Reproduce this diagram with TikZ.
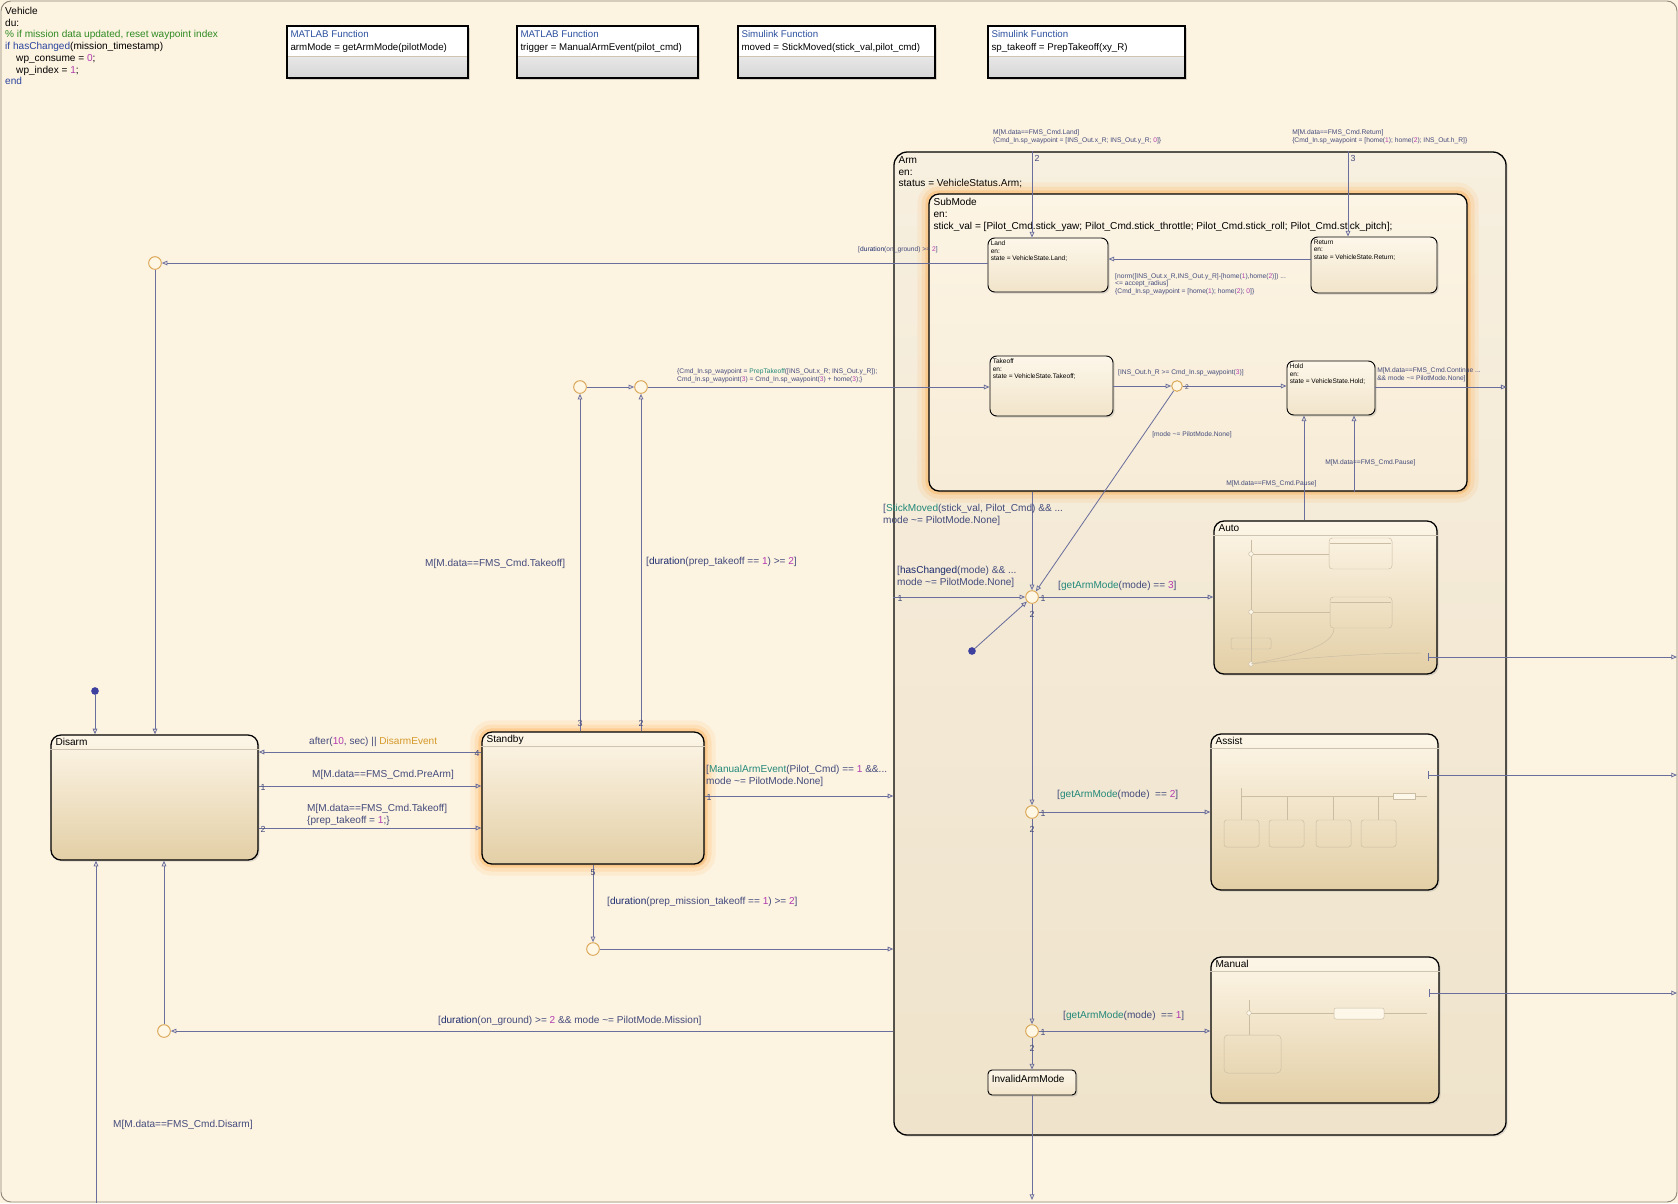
\documentclass[tikz,border=0pt]{standalone}
\usepackage{fontspec}
\setmainfont{Liberation Sans}
\usepackage{tikz}
\usetikzlibrary{arrows.meta,fit,shadows}

% colori nei testi delle transizioni
\newcommand{\cFn}[1]{\textcolor{colFn}{#1}}
\newcommand{\cNum}[1]{\textcolor{colNum}{#1}}
\newcommand{\cKw}[1]{\textcolor{colKw}{#1}}
\newcommand{\cEv}[1]{\textcolor{colEv}{#1}}
\newcommand{\tld}{\textasciitilde}

\begin{document}
\begin{tikzpicture}[x=0.3mm, y=-0.3mm,
  lab/.style={font=\fontsize{8.6}{10}\selectfont, text=colLab, inner sep=0pt, anchor=west, align=left},
  labS/.style={font=\fontsize{5.7}{6.5}\selectfont, text=colLab, inner sep=0pt, anchor=west, align=left},
  prio/.style={font=\fontsize{7.5}{8}\selectfont, text=colLab, inner sep=0pt},
  stTxt/.style={font=\fontsize{8.6}{9.9}\selectfont, inner sep=0pt, anchor=north west, align=left},
  stTxtS/.style={font=\fontsize{5.6}{6.5}\selectfont, inner sep=0pt, anchor=north west, align=left},
  fnTxt/.style={stTxt, font=\fontsize{8.3}{11}\selectfont},
  stateBox/.style={draw=black, line width=1.1pt, rounded corners=3mm, top color=colStTop, bottom color=colStBot, inner sep=0pt,
    drop shadow={shadow xshift=0.5mm, shadow yshift=-0.5mm, opacity=0.25}},
  smallBox/.style={stateBox, line width=0.8pt, rounded corners=2mm, top color=colSmTop, bottom color=colSmBot},
  glow/.style={preaction={draw=colGlow, line width=7mm, opacity=0.10},
    preaction={draw=colGlow, line width=4.5mm, opacity=0.16},
    preaction={draw=colGlow, line width=2.2mm, opacity=0.30}},
  fnBox/.style={draw=black, line width=1.2pt, fill=white, inner sep=0pt,
    drop shadow={shadow xshift=0.6mm, shadow yshift=-0.6mm, opacity=0.3},
    path picture={
      \shade[top color=white, bottom color=colFnBot] (path picture bounding box.south west) rectangle ([yshift=6.6mm]path picture bounding box.south east);
      \draw[colDiv, line width=0.5pt] ([yshift=6.6mm]path picture bounding box.south west) -- ([yshift=6.6mm]path picture bounding box.south east);
    }},
  junc/.style={circle, draw=colJunc, fill=colJuncFill, line width=0.8pt, minimum size=3.8mm, inner sep=0pt},
  defDot/.style={circle, fill=colDot, minimum size=2.3mm, inner sep=0pt},
  trans/.style={draw=colLine, line width=0.7pt, -{Triangle[open, length=1.7mm, width=1.4mm]}},
  transBar/.style={draw=colLine, line width=0.7pt, {Bar[width=2.2mm]}-{Triangle[open, length=1.7mm, width=1.4mm]}},
  faint/.style={draw=colFaint, line width=0.4pt},
  divLine/.style={draw=colDiv, line width=0.5pt}
]

% Colori
\definecolor{colBg}{HTML}{FDF3E1}
\definecolor{colFrame}{HTML}{8C8679}
\definecolor{colStTop}{HTML}{FDF6E8}
\definecolor{colStBot}{HTML}{E3CFA6}
\definecolor{colSmTop}{HTML}{FDF7EA}
\definecolor{colSmBot}{HTML}{F1E4CA}
\definecolor{colArmTop}{HTML}{F7EFDF}
\definecolor{colArmBot}{HTML}{EFE3CB}
\definecolor{colSubTop}{HTML}{FCF4E4}
\definecolor{colSubBot}{HTML}{F7ECD7}
\definecolor{colGlow}{HTML}{FFA63D}
\definecolor{colLine}{HTML}{6A6E9C}
\definecolor{colLab}{HTML}{434B7C}
\definecolor{colFn}{HTML}{23897A}
\definecolor{colNum}{HTML}{B23CB0}
\definecolor{colKw}{HTML}{1C2B6E}
\definecolor{colEv}{HTML}{D49A2A}
\definecolor{colCm}{HTML}{2E8B22}
\definecolor{colCode}{HTML}{2B45A0}
\definecolor{colJunc}{HTML}{D9A654}
\definecolor{colJuncFill}{HTML}{FFF6E3}
\definecolor{colDot}{HTML}{3E40A0}
\definecolor{colFaint}{HTML}{CBBDA3}
\definecolor{colDiv}{HTML}{CFC4B2}
\definecolor{colFnBot}{HTML}{D6D6D6}
\definecolor{colFnHd}{HTML}{2B509E}

% Sfondo del chart
\useasboundingbox (0,0) rectangle (1678,1203);
\fill[colBg] (0,0) rectangle (1678,1203);
\draw[colFrame, line width=0.8pt, rounded corners=3mm] (1,1) rectangle (1677,1202);

% Testo del chart
\node[stTxt, font=\fontsize{8.6}{10}\selectfont] (vehTxt) at (5,7) {Vehicle\\du:\\\textcolor{colCm}{\% if mission data updated, reset waypoint index}\\\textcolor{colCode}{if hasChanged}(mission\_timestamp)\\\hspace*{3.3mm}wp\_consume = \cNum{0};\\\hspace*{3.3mm}wp\_index = \cNum{1};\\\textcolor{colCode}{end}};

% Funzioni
\node[fnBox, fit={(287,26) (468,78)}] (fnArm) {};
\node[fnBox, fit={(517,26) (698,78)}] (fnManual) {};
\node[fnBox, fit={(738,26) (935,78)}] (fnStick) {};
\node[fnBox, fit={(988,26) (1185,78)}] (fnPrep) {};
\node[fnTxt] at ([shift={(4,5)}]fnArm.north west) {\textcolor{colFnHd}{MATLAB Function}\\armMode = getArmMode(pilotMode)};
\node[fnTxt] at ([shift={(4,5)}]fnManual.north west) {\textcolor{colFnHd}{MATLAB Function}\\trigger = ManualArmEvent(pilot\_cmd)};
\node[fnTxt] at ([shift={(4,5)}]fnStick.north west) {\textcolor{colFnHd}{Simulink Function}\\moved = StickMoved(stick\_val,pilot\_cmd)};
\node[fnTxt] at ([shift={(4,5)}]fnPrep.north west) {\textcolor{colFnHd}{Simulink Function}\\sp\_takeoff = PrepTakeoff(xy\_R)};

% Stato Arm e SubMode
\node[stateBox, rounded corners=4mm, top color=colArmTop, bottom color=colArmBot, fit={(894,152) (1506,1135)}] (arm) {};
\node[stTxt] at ([shift={(5,5)}]arm.north west) {Arm\\en:\\status = VehicleStatus.Arm;};
\node[stateBox, glow, top color=colSubTop, bottom color=colSubBot, fit={(929,194) (1467,491)}] (submode) {};
\node[stTxt] at ([shift={(5,5)}]submode.north west) {SubMode\\en:\\stick\_val = [Pilot\_Cmd.stick\_yaw; Pilot\_Cmd.stick\_throttle; Pilot\_Cmd.stick\_roll; Pilot\_Cmd.stick\_pitch];};

% Sottostati
\node[smallBox, fit={(988,238) (1108,292)}] (land) {};
\node[smallBox, fit={(1311,237) (1437,293)}] (return) {};
\node[smallBox, fit={(990,356) (1113,416)}] (takeoff) {};
\node[smallBox, fit={(1287,361) (1375,415)}] (hold) {};
\node[stTxtS] at ([shift={(3,3)}]land.north west) {Land\\en:\\state = VehicleState.Land;};
\node[stTxtS] at ([shift={(3,3)}]return.north west) {Return\\en:\\state = VehicleState.Return;};
\node[stTxtS] at ([shift={(3,3)}]takeoff.north west) {Takeoff\\en:\\state = VehicleState.Takeoff;};
\node[stTxtS] at ([shift={(3,3)}]hold.north west) {Hold\\en:\\state = VehicleState.Hold;};

% Modi
\node[stateBox, fit={(1214,521) (1437,674)}] (auto) {};
\node[stateBox, fit={(1211,734) (1438,890)}] (assist) {};
\node[stateBox, fit={(1211,957) (1439,1103)}] (manual) {};
\node[smallBox, rounded corners=1.2mm, fit={(988,1070) (1076,1095)}] (invalid) {};
\node[stTxt] at ([shift={(4,5)}]invalid.north west) {InvalidArmMode};

% Disarm e Standby
\node[stateBox, fit={(51,735) (258,860)}] (disarm) {};
\node[stateBox, glow, fit={(482,732) (704,864)}] (standby) {};

\foreach \s in {disarm, standby, auto, assist, manual}
  \draw[divLine] ([yshift=-4.5mm]\s.north west) -- ([yshift=-4.5mm]\s.north east);

\node[stTxt] at ([shift={(5,4)}]disarm.north west) {Disarm};
\node[stTxt] at ([shift={(5,4)}]standby.north west) {Standby};
\node[stTxt] at ([shift={(5,4)}]auto.north west) {Auto};
\node[stTxt] at ([shift={(5,4)}]assist.north west) {Assist};
\node[stTxt] at ([shift={(5,4)}]manual.north west) {Manual};

% Contenuto sbiadito di Auto
\draw[faint, rounded corners=1mm] (1329,538) rectangle (1392,569);
\draw[faint] (1330,543) -- (1391,543);
\draw[faint, rounded corners=1mm] (1330,597) rectangle (1392,628);
\draw[faint] (1331,602) -- (1391,602);
\draw[faint, rounded corners=0.6mm] (1231,638) rectangle (1271,649);
\draw[faint] (1251,540) -- (1251,664);
\draw[faint] (1251,554) -- (1329,554);
\draw[faint] (1251,612) -- (1330,612);
\foreach \yy in {554,612,664} \draw[faint, fill=colSmTop] (1251,\yy) circle (0.7mm);
\draw[faint] (1251,664) .. controls (1300,655) and (1334,645) .. (1334,628);
\draw[faint] (1251,664) .. controls (1320,656) and (1380,653) .. (1421,653);

% Contenuto sbiadito di Assist
\draw[faint] (1241,788) -- (1241,820);
\draw[faint] (1241,796) -- (1427,796);
\draw[faint, fill=colSmTop] (1393,793) rectangle (1415,799);
\foreach \xx in {1287,1333,1378} \draw[faint] (\xx,796) -- (\xx,820);
\foreach \xx in {1224,1269,1316,1361} \draw[faint, rounded corners=0.8mm] (\xx,820) rectangle ++(35,27);

% Contenuto sbiadito di Manual
\draw[faint] (1249,1000) -- (1249,1035);
\draw[faint] (1249,1013) -- (1427,1013);
\draw[faint, fill=colSmTop] (1249,1013) circle (0.7mm);
\draw[faint, fill=colSmTop, rounded corners=0.6mm] (1334,1008) rectangle (1384,1019);
\draw[faint, rounded corners=1.2mm] (1224,1035) rectangle (1281,1073);

% Giunzioni
\node[junc] (j1) at (1032,597) {};
\node[junc] (j2) at (1032,812) {};
\node[junc] (j3) at (1032,1031) {};
\node[junc, minimum size=3.2mm] (jS) at (1177,386) {};
\node[junc] (jTop) at (155,263) {};
\node[junc] (jA) at (580,387) {};
\node[junc] (jB) at (641,387) {};
\node[junc] (jC) at (593,949) {};
\node[junc] (jD) at (164,1031) {};
\node[defDot] (dotA) at (972,651) {};
\node[defDot] (dotL) at (95,691) {};
\coordinate (disIn) at (96,1203);
\coordinate (invOut) at (1032,1200);
\coordinate (autoTick) at (1428,657);
\coordinate (autoOut) at (1677,657);
\coordinate (assistTick) at (1428,775);
\coordinate (assistOut) at (1677,775);
\coordinate (manualTick) at (1429,993);
\coordinate (manualOut) at (1677,993);

% Transizioni esterne
\draw[trans] (dotL) -- (disarm.north -| dotL);
\draw[trans] (land.west |- 0,263) -- (jTop);
\draw[trans] (jTop) -- (disarm.north -| jTop);
\draw[trans] (standby.west |- 0,752) -- (disarm.east |- 0,752);
\draw[trans] (disarm.east |- 0,786) -- (standby.west |- 0,786);
\draw[trans] (disarm.east |- 0,828) -- (standby.west |- 0,828);
\draw[trans] (standby.north -| jA) -- (jA);
\draw[trans] (standby.north -| jB) -- (jB);
\draw[trans] (jA) -- (jB);
\draw[trans] (jB) -- (takeoff.west |- jB);
\draw[trans] (standby.east |- 0,796) -- (arm.west |- 0,796);
\draw[trans] (standby.south -| jC) -- (jC);
\draw[trans] (jC) -- (arm.west |- jC);
\draw[trans] (arm.west |- jD) -- (jD);
\draw[trans] (jD) -- (disarm.south -| jD);
\draw[trans] (disIn) -- (disarm.south -| disIn);

% Transizioni dentro Arm
\draw[trans] (arm.north -| j1) -- (land.north -| j1);
\draw[trans] (arm.north -| 1348,0) -- (return.north -| 1348,0);
\draw[trans] (return.west |- 0,259) -- (land.east |- 0,259);
\draw[trans] (takeoff.east |- jS) -- (jS);
\draw[trans] (jS) -- (hold.west |- jS);
\draw[trans] (hold.east |- 0,387) -- (arm.east |- 0,387);
\draw[trans] (auto.north -| 1304,0) -- (hold.south -| 1304,0);
\draw[trans] (submode.south -| 1354,0) -- (hold.south -| 1354,0);
\draw[trans] (jS) -- (j1);
\draw[trans] (submode.south -| j1) -- (j1);
\draw[trans] (arm.west |- j1) -- (j1);
\draw[trans] (dotA) -- (j1);
\draw[trans] (j1) -- (auto.west |- j1);
\draw[trans] (j1) -- (j2);
\draw[trans] (j2) -- (assist.west |- j2);
\draw[trans] (j2) -- (j3);
\draw[trans] (j3) -- (manual.west |- j3);
\draw[trans] (j3) -- (invalid.north -| j3);
\draw[trans] (invalid.south) -- (invOut);
\draw[transBar] (autoTick) -- (autoOut);
\draw[transBar] (assistTick) -- (assistOut);
\draw[transBar] (manualTick) -- (manualOut);

% Etichette delle transizioni
\node[labS] at (858,250) {[\cKw{duration}(on\_ground) >= \cNum{2}]};
\node[labS] at (677,376) {\{Cmd\_In.sp\_waypoint = \cFn{PrepTakeoff}([INS\_Out.x\_R; INS\_Out.y\_R]);\\Cmd\_In.sp\_waypoint(\cNum{3}) = Cmd\_In.sp\_waypoint(\cNum{3}) + home(\cNum{3});\}};
\node[lab] at (425,564) {M[M.data==FMS\_Cmd.Takeoff]};
\node[lab] at (646,562) {[\cKw{duration}(prep\_takeoff == \cNum{1}) >= \cNum{2}]};
\node[lab] at (309,742) {after(\cNum{10}, sec) || \cEv{DisarmEvent}};
\node[lab] at (312,775) {M[M.data==FMS\_Cmd.PreArm]};
\node[lab] at (307,815) {M[M.data==FMS\_Cmd.Takeoff]\\\{prep\_takeoff = \cNum{1};\}};
\node[lab] at (706,776) {[\cFn{ManualArmEvent}(Pilot\_Cmd) == \cNum{1} \&\&...\\mode \tld= PilotMode.None]};
\node[lab] at (607,902) {[\cKw{duration}(prep\_mission\_takeoff == \cNum{1}) >= \cNum{2}]};
\node[lab] at (438,1021) {[\cKw{duration}(on\_ground) >= \cNum{2} \&\& mode \tld= PilotMode.Mission]};
\node[lab] at (113,1125) {M[M.data==FMS\_Cmd.Disarm]};
\node[labS] at (993,137) {M[M.data==FMS\_Cmd.Land]\\\{Cmd\_In.sp\_waypoint = [INS\_Out.x\_R; INS\_Out.y\_R; \cNum{0}]\}};
\node[labS] at (1292,137) {M[M.data==FMS\_Cmd.Return]\\\{Cmd\_In.sp\_waypoint = [home(\cNum{1}); home(\cNum{2}); INS\_Out.h\_R]\}};
\node[labS] at (1115,284) {[norm([INS\_Out.x\_R,INS\_Out.y\_R]-[home(\cNum{1}),home(\cNum{2})]) ...\\<= accept\_radius]\\\{Cmd\_In.sp\_waypoint = [home(\cNum{1}); home(\cNum{2}); \cNum{0}]\}};
\node[labS] at (1118,373) {[INS\_Out.h\_R >= Cmd\_In.sp\_waypoint(\cNum{3})]};
\node[labS] at (1152,435) {[mode \tld= PilotMode.None]};
\node[labS] at (1377,375) {M[M.data==FMS\_Cmd.Continue ...\\\&\& mode \tld= PilotMode.None]};
\node[labS] at (1325,463) {M[M.data==FMS\_Cmd.Pause]};
\node[labS] at (1226,484) {M[M.data==FMS\_Cmd.Pause]};
\node[lab] at (883,515) {[\cFn{StickMoved}(stick\_val, Pilot\_Cmd) \&\& ...\\mode \tld= PilotMode.None]};
\node[lab] at (897,577) {[\cKw{hasChanged}(mode) \&\& ...\\mode \tld= PilotMode.None]};
\node[lab] at (1058,586) {[\cFn{getArmMode}(mode) == \cNum{3}]};
\node[lab] at (1057,795) {[\cFn{getArmMode}(mode)\ \ == \cNum{2}]};
\node[lab] at (1063,1016) {[\cFn{getArmMode}(mode)\ \ == \cNum{1}]};

% Priorita
\node[prio] at (1037,158) {2};
\node[prio] at (1353,158) {3};
\node[prio] at (580,723) {3};
\node[prio] at (641,723) {2};
\node[prio] at (477,753) {4};
\node[prio] at (263,787) {1};
\node[prio] at (263,829) {2};
\node[prio] at (709,797) {1};
\node[prio] at (593,873) {5};
\node[prio, font=\fontsize{5.7}{6}\selectfont] at (1187,387) {2};
\node[prio] at (900,598) {1};
\node[prio] at (1043,598) {1};
\node[prio] at (1032,614) {2};
\node[prio] at (1043,813) {1};
\node[prio] at (1032,829) {2};
\node[prio] at (1043,1032) {1};
\node[prio] at (1032,1048) {2};

\end{tikzpicture}
\end{document}
